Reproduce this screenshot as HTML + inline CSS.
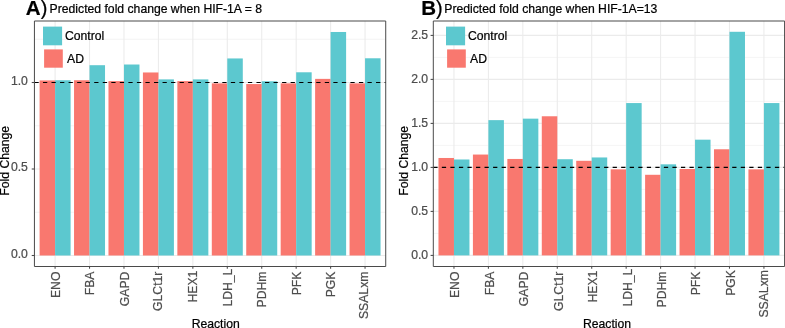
<!DOCTYPE html>
<html><head><meta charset="utf-8"><style>
html,body{margin:0;padding:0;background:#fff;}
body{width:785px;height:328px;overflow:hidden;}
svg{display:block;font-family:"Liberation Sans",sans-serif;will-change:transform;}
</style></head><body>
<svg width="785" height="328" viewBox="0 0 785 328">
<rect width="785" height="328" fill="#fff"/>
<line x1="34.43" x2="385.72" y1="212.25" y2="212.25" stroke="#EBEBEB" stroke-width="0.53"/>
<line x1="34.43" x2="385.72" y1="125.75" y2="125.75" stroke="#EBEBEB" stroke-width="0.53"/>
<line x1="34.43" x2="385.72" y1="39.25" y2="39.25" stroke="#EBEBEB" stroke-width="0.53"/>
<line x1="34.43" x2="385.72" y1="255.50" y2="255.50" stroke="#EBEBEB" stroke-width="1.07"/>
<line x1="34.43" x2="385.72" y1="169.00" y2="169.00" stroke="#EBEBEB" stroke-width="1.07"/>
<line x1="34.43" x2="385.72" y1="82.50" y2="82.50" stroke="#EBEBEB" stroke-width="1.07"/>
<line x1="55.09" x2="55.09" y1="21.0" y2="266.0" stroke="#EBEBEB" stroke-width="1.07"/>
<line x1="89.53" x2="89.53" y1="21.0" y2="266.0" stroke="#EBEBEB" stroke-width="1.07"/>
<line x1="123.97" x2="123.97" y1="21.0" y2="266.0" stroke="#EBEBEB" stroke-width="1.07"/>
<line x1="158.41" x2="158.41" y1="21.0" y2="266.0" stroke="#EBEBEB" stroke-width="1.07"/>
<line x1="192.85" x2="192.85" y1="21.0" y2="266.0" stroke="#EBEBEB" stroke-width="1.07"/>
<line x1="227.29" x2="227.29" y1="21.0" y2="266.0" stroke="#EBEBEB" stroke-width="1.07"/>
<line x1="261.73" x2="261.73" y1="21.0" y2="266.0" stroke="#EBEBEB" stroke-width="1.07"/>
<line x1="296.17" x2="296.17" y1="21.0" y2="266.0" stroke="#EBEBEB" stroke-width="1.07"/>
<line x1="330.61" x2="330.61" y1="21.0" y2="266.0" stroke="#EBEBEB" stroke-width="1.07"/>
<line x1="365.05" x2="365.05" y1="21.0" y2="266.0" stroke="#EBEBEB" stroke-width="1.07"/>
<rect x="39.60" y="80.42" width="15.50" height="175.08" fill="#F9786F"/>
<rect x="55.09" y="80.25" width="15.50" height="175.25" fill="#5CC8CF"/>
<rect x="74.04" y="80.25" width="15.50" height="175.25" fill="#F9786F"/>
<rect x="89.53" y="65.20" width="15.50" height="190.30" fill="#5CC8CF"/>
<rect x="108.48" y="81.12" width="15.50" height="174.38" fill="#F9786F"/>
<rect x="123.97" y="64.51" width="15.50" height="190.99" fill="#5CC8CF"/>
<rect x="142.92" y="72.47" width="15.50" height="183.03" fill="#F9786F"/>
<rect x="158.41" y="79.39" width="15.50" height="176.11" fill="#5CC8CF"/>
<rect x="177.36" y="81.12" width="15.50" height="174.38" fill="#F9786F"/>
<rect x="192.85" y="79.39" width="15.50" height="176.11" fill="#5CC8CF"/>
<rect x="211.80" y="83.37" width="15.50" height="172.13" fill="#F9786F"/>
<rect x="227.29" y="58.45" width="15.50" height="197.05" fill="#5CC8CF"/>
<rect x="246.24" y="84.06" width="15.50" height="171.44" fill="#F9786F"/>
<rect x="261.73" y="81.29" width="15.50" height="174.21" fill="#5CC8CF"/>
<rect x="280.68" y="83.37" width="15.50" height="172.13" fill="#F9786F"/>
<rect x="296.17" y="72.29" width="15.50" height="183.21" fill="#5CC8CF"/>
<rect x="315.12" y="78.87" width="15.50" height="176.63" fill="#F9786F"/>
<rect x="330.61" y="31.98" width="15.50" height="223.52" fill="#5CC8CF"/>
<rect x="349.56" y="83.37" width="15.50" height="172.13" fill="#F9786F"/>
<rect x="365.05" y="58.28" width="15.50" height="197.22" fill="#5CC8CF"/>
<line x1="34.43" x2="385.72" y1="82.50" y2="82.50" stroke="#000" stroke-width="1.07" stroke-dasharray="4.27 4.27"/>
<line x1="34.43" x2="385.72" y1="21" y2="21" stroke="#4A4A4A" stroke-width="1.07"/>
<line x1="34.43" x2="385.72" y1="266.5" y2="266.5" stroke="#4A4A4A" stroke-width="1.0"/>
<line x1="34.43" x2="34.43" y1="21" y2="266.5" stroke="#4A4A4A" stroke-width="1.0"/>
<line x1="385.72" x2="385.72" y1="21" y2="266.5" stroke="#4A4A4A" stroke-width="1.0"/>
<line x1="31.73" x2="34.43" y1="255.50" y2="255.50" stroke="#4A4A4A" stroke-width="1.07"/>
<text x="27.83" y="257.70" text-anchor="end" font-size="12.2" fill="#4D4D4D" stroke="#4D4D4D" stroke-width="0.22">0.0</text>
<line x1="31.73" x2="34.43" y1="169.00" y2="169.00" stroke="#4A4A4A" stroke-width="1.07"/>
<text x="27.83" y="171.20" text-anchor="end" font-size="12.2" fill="#4D4D4D" stroke="#4D4D4D" stroke-width="0.22">0.5</text>
<line x1="31.73" x2="34.43" y1="82.50" y2="82.50" stroke="#4A4A4A" stroke-width="1.07"/>
<text x="27.83" y="84.70" text-anchor="end" font-size="12.2" fill="#4D4D4D" stroke="#4D4D4D" stroke-width="0.22">1.0</text>
<line x1="55.09" x2="55.09" y1="266.0" y2="268.7" stroke="#4A4A4A" stroke-width="1.07"/>
<text transform="translate(59.69,271.60) rotate(-90)" text-anchor="end" font-size="12.2" fill="#4D4D4D" stroke="#4D4D4D" stroke-width="0.22">ENO</text>
<line x1="89.53" x2="89.53" y1="266.0" y2="268.7" stroke="#4A4A4A" stroke-width="1.07"/>
<text transform="translate(94.13,271.60) rotate(-90)" text-anchor="end" font-size="12.2" fill="#4D4D4D" stroke="#4D4D4D" stroke-width="0.22">FBA</text>
<line x1="123.97" x2="123.97" y1="266.0" y2="268.7" stroke="#4A4A4A" stroke-width="1.07"/>
<text transform="translate(128.57,271.60) rotate(-90)" text-anchor="end" font-size="12.2" fill="#4D4D4D" stroke="#4D4D4D" stroke-width="0.22">GAPD</text>
<line x1="158.41" x2="158.41" y1="266.0" y2="268.7" stroke="#4A4A4A" stroke-width="1.07"/>
<text transform="translate(161.81,271.60) rotate(-90)" text-anchor="end" font-size="12.2" fill="#4D4D4D" stroke="#4D4D4D" stroke-width="0.22">GLCt1r</text>
<line x1="192.85" x2="192.85" y1="266.0" y2="268.7" stroke="#4A4A4A" stroke-width="1.07"/>
<text transform="translate(197.45,270.60) rotate(-90)" text-anchor="end" font-size="12.2" fill="#4D4D4D" stroke="#4D4D4D" stroke-width="0.22">HEX1</text>
<line x1="227.29" x2="227.29" y1="266.0" y2="268.7" stroke="#4A4A4A" stroke-width="1.07"/>
<text transform="translate(231.89,268.60) rotate(-90)" text-anchor="end" font-size="12.2" fill="#4D4D4D" stroke="#4D4D4D" stroke-width="0.22">LDH_L</text>
<line x1="261.73" x2="261.73" y1="266.0" y2="268.7" stroke="#4A4A4A" stroke-width="1.07"/>
<text transform="translate(266.33,271.60) rotate(-90)" text-anchor="end" font-size="12.2" fill="#4D4D4D" stroke="#4D4D4D" stroke-width="0.22">PDHm</text>
<line x1="296.17" x2="296.17" y1="266.0" y2="268.7" stroke="#4A4A4A" stroke-width="1.07"/>
<text transform="translate(300.77,271.60) rotate(-90)" text-anchor="end" font-size="12.2" fill="#4D4D4D" stroke="#4D4D4D" stroke-width="0.22">PFK</text>
<line x1="330.61" x2="330.61" y1="266.0" y2="268.7" stroke="#4A4A4A" stroke-width="1.07"/>
<text transform="translate(335.21,271.60) rotate(-90)" text-anchor="end" font-size="12.2" fill="#4D4D4D" stroke="#4D4D4D" stroke-width="0.22">PGK</text>
<line x1="365.05" x2="365.05" y1="266.0" y2="268.7" stroke="#4A4A4A" stroke-width="1.07"/>
<text transform="translate(368.15,271.60) rotate(-90)" text-anchor="end" font-size="12.2" fill="#4D4D4D" stroke="#4D4D4D" stroke-width="0.22">SSALxm</text>
<text x="25.8" y="14.8" font-size="20.5" font-weight="bold" fill="#000" stroke="#000" stroke-width="0.22">A</text>
<text x="40.7" y="15.0" font-size="20" fill="#000" stroke="#000" stroke-width="0.22">)</text>
<text x="49.6" y="12.9" font-size="12.2" fill="#000" stroke="#000" stroke-width="0.22">Predicted fold change when HIF-1A = 8</text>
<text transform="translate(8.8,160.8) rotate(-90)" text-anchor="middle" font-size="12.2" fill="#000" stroke="#000" stroke-width="0.22">Fold Change</text>
<text x="215.7" y="328.2" text-anchor="middle" font-size="12.2" fill="#000" stroke="#000" stroke-width="0.22">Reaction</text>
<line x1="433.30" x2="784.59" y1="233.40" y2="233.40" stroke="#EBEBEB" stroke-width="0.53"/>
<line x1="433.30" x2="784.59" y1="189.40" y2="189.40" stroke="#EBEBEB" stroke-width="0.53"/>
<line x1="433.30" x2="784.59" y1="145.40" y2="145.40" stroke="#EBEBEB" stroke-width="0.53"/>
<line x1="433.30" x2="784.59" y1="101.40" y2="101.40" stroke="#EBEBEB" stroke-width="0.53"/>
<line x1="433.30" x2="784.59" y1="57.40" y2="57.40" stroke="#EBEBEB" stroke-width="0.53"/>
<line x1="433.30" x2="784.59" y1="255.40" y2="255.40" stroke="#EBEBEB" stroke-width="1.07"/>
<line x1="433.30" x2="784.59" y1="211.40" y2="211.40" stroke="#EBEBEB" stroke-width="1.07"/>
<line x1="433.30" x2="784.59" y1="167.40" y2="167.40" stroke="#EBEBEB" stroke-width="1.07"/>
<line x1="433.30" x2="784.59" y1="123.40" y2="123.40" stroke="#EBEBEB" stroke-width="1.07"/>
<line x1="433.30" x2="784.59" y1="79.40" y2="79.40" stroke="#EBEBEB" stroke-width="1.07"/>
<line x1="433.30" x2="784.59" y1="35.40" y2="35.40" stroke="#EBEBEB" stroke-width="1.07"/>
<line x1="453.96" x2="453.96" y1="21.0" y2="266.0" stroke="#EBEBEB" stroke-width="1.07"/>
<line x1="488.40" x2="488.40" y1="21.0" y2="266.0" stroke="#EBEBEB" stroke-width="1.07"/>
<line x1="522.84" x2="522.84" y1="21.0" y2="266.0" stroke="#EBEBEB" stroke-width="1.07"/>
<line x1="557.28" x2="557.28" y1="21.0" y2="266.0" stroke="#EBEBEB" stroke-width="1.07"/>
<line x1="591.72" x2="591.72" y1="21.0" y2="266.0" stroke="#EBEBEB" stroke-width="1.07"/>
<line x1="626.16" x2="626.16" y1="21.0" y2="266.0" stroke="#EBEBEB" stroke-width="1.07"/>
<line x1="660.60" x2="660.60" y1="21.0" y2="266.0" stroke="#EBEBEB" stroke-width="1.07"/>
<line x1="695.04" x2="695.04" y1="21.0" y2="266.0" stroke="#EBEBEB" stroke-width="1.07"/>
<line x1="729.48" x2="729.48" y1="21.0" y2="266.0" stroke="#EBEBEB" stroke-width="1.07"/>
<line x1="763.92" x2="763.92" y1="21.0" y2="266.0" stroke="#EBEBEB" stroke-width="1.07"/>
<rect x="438.47" y="157.98" width="15.50" height="97.42" fill="#F9786F"/>
<rect x="453.96" y="159.48" width="15.50" height="95.92" fill="#5CC8CF"/>
<rect x="472.91" y="154.55" width="15.50" height="100.85" fill="#F9786F"/>
<rect x="488.40" y="120.14" width="15.50" height="135.26" fill="#5CC8CF"/>
<rect x="507.35" y="158.95" width="15.50" height="96.45" fill="#F9786F"/>
<rect x="522.84" y="118.65" width="15.50" height="136.75" fill="#5CC8CF"/>
<rect x="541.79" y="116.27" width="15.50" height="139.13" fill="#F9786F"/>
<rect x="557.28" y="159.22" width="15.50" height="96.18" fill="#5CC8CF"/>
<rect x="576.23" y="160.80" width="15.50" height="94.60" fill="#F9786F"/>
<rect x="591.72" y="157.46" width="15.50" height="97.94" fill="#5CC8CF"/>
<rect x="610.67" y="169.34" width="15.50" height="86.06" fill="#F9786F"/>
<rect x="626.16" y="103.07" width="15.50" height="152.33" fill="#5CC8CF"/>
<rect x="645.11" y="174.79" width="15.50" height="80.61" fill="#F9786F"/>
<rect x="660.60" y="164.32" width="15.50" height="91.08" fill="#5CC8CF"/>
<rect x="679.55" y="168.98" width="15.50" height="86.42" fill="#F9786F"/>
<rect x="695.04" y="139.68" width="15.50" height="115.72" fill="#5CC8CF"/>
<rect x="713.99" y="149.27" width="15.50" height="106.13" fill="#F9786F"/>
<rect x="729.48" y="31.79" width="15.50" height="223.61" fill="#5CC8CF"/>
<rect x="748.43" y="169.34" width="15.50" height="86.06" fill="#F9786F"/>
<rect x="763.92" y="103.07" width="15.50" height="152.33" fill="#5CC8CF"/>
<line x1="433.30" x2="784.59" y1="167.40" y2="167.40" stroke="#000" stroke-width="1.07" stroke-dasharray="4.27 4.27"/>
<line x1="433.30" x2="784.59" y1="21" y2="21" stroke="#4A4A4A" stroke-width="1.07"/>
<line x1="433.30" x2="784.59" y1="266.5" y2="266.5" stroke="#4A4A4A" stroke-width="1.0"/>
<line x1="433.30" x2="433.30" y1="21" y2="266.5" stroke="#4A4A4A" stroke-width="1.0"/>
<line x1="784.59" x2="784.59" y1="21" y2="266.5" stroke="#4A4A4A" stroke-width="1.0"/>
<line x1="430.60" x2="433.30" y1="255.40" y2="255.40" stroke="#4A4A4A" stroke-width="1.07"/>
<text x="428.10" y="258.70" text-anchor="end" font-size="12.2" fill="#4D4D4D" stroke="#4D4D4D" stroke-width="0.22">0.0</text>
<line x1="430.60" x2="433.30" y1="211.40" y2="211.40" stroke="#4A4A4A" stroke-width="1.07"/>
<text x="428.10" y="214.70" text-anchor="end" font-size="12.2" fill="#4D4D4D" stroke="#4D4D4D" stroke-width="0.22">0.5</text>
<line x1="430.60" x2="433.30" y1="167.40" y2="167.40" stroke="#4A4A4A" stroke-width="1.07"/>
<text x="428.10" y="170.70" text-anchor="end" font-size="12.2" fill="#4D4D4D" stroke="#4D4D4D" stroke-width="0.22">1.0</text>
<line x1="430.60" x2="433.30" y1="123.40" y2="123.40" stroke="#4A4A4A" stroke-width="1.07"/>
<text x="428.10" y="126.70" text-anchor="end" font-size="12.2" fill="#4D4D4D" stroke="#4D4D4D" stroke-width="0.22">1.5</text>
<line x1="430.60" x2="433.30" y1="79.40" y2="79.40" stroke="#4A4A4A" stroke-width="1.07"/>
<text x="428.10" y="82.70" text-anchor="end" font-size="12.2" fill="#4D4D4D" stroke="#4D4D4D" stroke-width="0.22">2.0</text>
<line x1="430.60" x2="433.30" y1="35.40" y2="35.40" stroke="#4A4A4A" stroke-width="1.07"/>
<text x="428.10" y="38.70" text-anchor="end" font-size="12.2" fill="#4D4D4D" stroke="#4D4D4D" stroke-width="0.22">2.5</text>
<line x1="453.96" x2="453.96" y1="266.0" y2="268.7" stroke="#4A4A4A" stroke-width="1.07"/>
<text transform="translate(459.36,271.60) rotate(-90)" text-anchor="end" font-size="12.2" fill="#4D4D4D" stroke="#4D4D4D" stroke-width="0.22">ENO</text>
<line x1="488.40" x2="488.40" y1="266.0" y2="268.7" stroke="#4A4A4A" stroke-width="1.07"/>
<text transform="translate(493.80,271.60) rotate(-90)" text-anchor="end" font-size="12.2" fill="#4D4D4D" stroke="#4D4D4D" stroke-width="0.22">FBA</text>
<line x1="522.84" x2="522.84" y1="266.0" y2="268.7" stroke="#4A4A4A" stroke-width="1.07"/>
<text transform="translate(528.24,271.60) rotate(-90)" text-anchor="end" font-size="12.2" fill="#4D4D4D" stroke="#4D4D4D" stroke-width="0.22">GAPD</text>
<line x1="557.28" x2="557.28" y1="266.0" y2="268.7" stroke="#4A4A4A" stroke-width="1.07"/>
<text transform="translate(562.68,271.60) rotate(-90)" text-anchor="end" font-size="12.2" fill="#4D4D4D" stroke="#4D4D4D" stroke-width="0.22">GLCt1r</text>
<line x1="591.72" x2="591.72" y1="266.0" y2="268.7" stroke="#4A4A4A" stroke-width="1.07"/>
<text transform="translate(597.12,270.60) rotate(-90)" text-anchor="end" font-size="12.2" fill="#4D4D4D" stroke="#4D4D4D" stroke-width="0.22">HEX1</text>
<line x1="626.16" x2="626.16" y1="266.0" y2="268.7" stroke="#4A4A4A" stroke-width="1.07"/>
<text transform="translate(631.56,268.60) rotate(-90)" text-anchor="end" font-size="12.2" fill="#4D4D4D" stroke="#4D4D4D" stroke-width="0.22">LDH_L</text>
<line x1="660.60" x2="660.60" y1="266.0" y2="268.7" stroke="#4A4A4A" stroke-width="1.07"/>
<text transform="translate(666.00,271.60) rotate(-90)" text-anchor="end" font-size="12.2" fill="#4D4D4D" stroke="#4D4D4D" stroke-width="0.22">PDHm</text>
<line x1="695.04" x2="695.04" y1="266.0" y2="268.7" stroke="#4A4A4A" stroke-width="1.07"/>
<text transform="translate(700.44,271.60) rotate(-90)" text-anchor="end" font-size="12.2" fill="#4D4D4D" stroke="#4D4D4D" stroke-width="0.22">PFK</text>
<line x1="729.48" x2="729.48" y1="266.0" y2="268.7" stroke="#4A4A4A" stroke-width="1.07"/>
<text transform="translate(734.88,270.10) rotate(-90)" text-anchor="end" font-size="12.2" fill="#4D4D4D" stroke="#4D4D4D" stroke-width="0.22">PGK</text>
<line x1="763.92" x2="763.92" y1="266.0" y2="268.7" stroke="#4A4A4A" stroke-width="1.07"/>
<text transform="translate(767.82,270.10) rotate(-90)" text-anchor="end" font-size="12.2" fill="#4D4D4D" stroke="#4D4D4D" stroke-width="0.22">SSALxm</text>
<text x="421.2" y="14.8" font-size="20.5" font-weight="bold" fill="#000" stroke="#000" stroke-width="0.22">B</text>
<text x="436.09999999999997" y="15.0" font-size="20" fill="#000" stroke="#000" stroke-width="0.22">)</text>
<text x="444.3" y="12.9" font-size="12.2" fill="#000" stroke="#000" stroke-width="0.22">Predicted fold change when HIF-1A=13</text>
<text transform="translate(408.2,160.8) rotate(-90)" text-anchor="middle" font-size="12.2" fill="#000" stroke="#000" stroke-width="0.22">Fold Change</text>
<text x="607.0" y="328.2" text-anchor="middle" font-size="12.2" fill="#000" stroke="#000" stroke-width="0.22">Reaction</text>
<rect x="43" y="26.6" width="19.1" height="18.7" fill="#5CC8CF"/>
<rect x="44.1" y="49.4" width="18.7" height="18.3" fill="#F9786F"/>
<text x="64.9" y="39.9" font-size="12.2" fill="#000" stroke="#000" stroke-width="0.22">Control</text>
<text x="67.1" y="62.9" font-size="12.2" fill="#000" stroke="#000" stroke-width="0.22">AD</text>
<rect x="446.0" y="26.6" width="19.1" height="18.7" fill="#5CC8CF"/>
<rect x="447.1" y="49.4" width="18.7" height="18.3" fill="#F9786F"/>
<text x="467.9" y="39.9" font-size="12.2" fill="#000" stroke="#000" stroke-width="0.22">Control</text>
<text x="470.1" y="62.9" font-size="12.2" fill="#000" stroke="#000" stroke-width="0.22">AD</text>
</svg>
</body></html>
